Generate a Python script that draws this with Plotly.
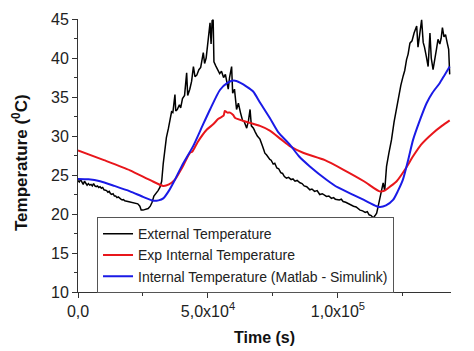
import plotly.graph_objects as go

# External temperature (time in s, temp in degC)
ext_t = [0, 500, 1000, 1500, 2000, 2500, 3000, 3500, 4000, 4500, 5000, 5500, 6000, 6500, 7000,
         7500, 8000, 8500, 9000, 9500, 10000, 11000, 11500, 12000, 12500, 13000, 13500, 14000,
         14500, 15000, 15500, 16000, 16500, 17000, 17500, 18000, 19000, 20000, 21000, 22000, 23000,
         23800, 24300, 25000, 26000,
         27000, 27800, 28500, 29200, 30000, 30800, 31500, 32200, 32800, 33400, 34000, 34800, 35500,
         36000, 36500, 37000, 37300, 37600, 38200, 39000, 39500, 40200, 41000, 41800, 42200, 43000,
         43700, 44400, 45000, 45700, 46500, 47200, 48200, 48700, 49300, 49800, 50400, 50800, 51200,
         51600, 52000, 52300, 53000, 53800, 54500, 55200, 56000, 56700, 57200, 57800, 58300, 59100,
         59500, 60200, 61000, 61700, 62500, 63300, 64000, 64900, 65600, 66200, 66700, 67500, 68200,
         69000, 70000, 70500, 71000, 71500, 71900, 72500, 73000, 73800, 74300, 75100, 75700, 76500,
         77200, 78000, 78700, 79400, 80200, 81000, 82000, 82700, 83500, 84300, 85400, 86200, 87000,
         88000, 89200, 90000, 91000, 92000, 93000, 94000, 95600, 96500, 97500, 98300, 99000, 100500,
         101300, 102000, 103000, 104000, 105000, 106000, 107000, 108500, 109500, 110500, 111300,
         112000, 112800, 113600, 114300, 114900, 115500, 116200, 116800, 117400, 118000, 118700,
         119600, 120600, 121600, 122600, 123400, 124200, 125100, 125700, 126400, 127000, 127700,
         128500, 129300, 130300, 130800, 131500, 132200, 132800, 133300, 134000, 134700, 135400,
         135900, 136600, 137200, 137900, 138500, 139200, 139700, 140200, 140800, 141400, 142000,
         142600, 143000]
ext_v = [24.3, 24.1, 24.4, 24.0, 23.8, 24.2, 24.0, 23.7, 23.9, 23.7, 23.8, 23.6, 23.9, 23.6, 23.5,
         23.6, 23.4, 23.5, 23.3, 23.4, 23.1, 23.0, 22.8, 22.9, 22.6, 22.5, 22.6, 22.3,
         22.3, 22.1, 22.2, 22.0, 21.9, 21.8, 21.85, 21.7, 21.6, 21.5, 21.4, 21.35, 21.3,
         21.0, 20.5, 20.5, 20.6,
         20.7, 21.0, 21.5, 22.3, 22.6, 23.0, 23.4, 24.2, 26.5, 28.6, 29.8, 31.0, 32.5,
         33.1, 33.0, 34.5, 35.3, 33.2, 33.4, 34.0, 33.6, 34.8, 35.2, 38.1, 35.2, 36.0,
         37.0, 38.9, 37.6, 37.8, 38.5, 38.8, 40.7, 39.3, 40.0, 41.5, 43.0, 44.5, 41.8,
         44.8, 44.9, 39.5, 39.0, 38.5, 38.0, 38.3, 37.5, 37.9, 37.2, 36.0, 37.5, 38.9,
         35.5, 36.0, 33.4, 34.2, 33.0, 32.0, 31.8, 31.0, 32.0, 33.4, 31.3, 31.0, 30.5,
         30.0, 29.6, 29.0, 28.7, 28.2, 27.8, 27.6, 27.3, 27.0, 26.9, 26.4, 26.5, 25.9,
         25.8, 25.3, 25.2, 24.8, 24.6, 24.7, 24.4, 24.5, 24.2, 24.3, 24.0, 23.9, 23.6,
         23.5, 23.1, 23.2, 22.9, 23.0, 22.5, 22.6, 22.25, 22.3, 22.0, 22.1, 21.9, 21.8,
         21.9, 21.6, 21.5, 21.3, 21.2, 21.0, 20.9, 20.5, 20.4, 20.2, 20.3,
         19.9, 19.8, 19.5, 19.8, 20.1, 21.0, 22.25, 23.2, 24.0, 23.0, 26.1,
         27.8, 29.5, 31.8, 33.8, 35.0, 36.5, 37.7, 38.4, 39.8, 40.5, 41.9,
         42.2, 43.2, 44.1, 41.4, 43.5, 44.9, 42.0, 41.4, 40.2, 38.9, 43.2,
         40.0, 38.5, 40.0, 41.1, 42.4, 41.8, 42.5, 43.9, 42.7, 43.0, 42.0,
         41.1, 37.9]

# Experimental internal temperature
exp_t = [0, 10000, 20000, 28000, 32800, 35000, 37300, 40000, 43100, 44000, 46000, 49500, 52000,
         54000, 56000, 56500, 57500, 58500, 59700, 60500, 65000, 70000, 73800, 78000, 81500, 86600,
         95000, 102000, 110000, 116000, 118000, 120000, 122600, 126000, 128900, 132000, 136600,
         140000, 143000]
exp_v = [28.15, 26.9, 25.6, 24.3, 23.6, 23.8, 24.4, 25.9, 27.85, 28.0, 29.2, 30.8, 31.5,
         32.2, 32.6, 33.2, 33.0, 33.0, 32.7, 32.3, 31.8, 31.3, 30.7, 29.6, 28.7, 27.85,
         26.9, 25.7, 24.2, 22.9, 23.0, 23.5, 24.2, 25.8, 27.4, 28.9, 30.4,
         31.3, 32.0]

# Simulated internal temperature (Matlab - Simulink)
sim_t = [0, 4000, 8500, 14000, 20000, 25000, 29000, 31000, 32800, 35000, 37300, 40000, 44300,
         48000, 50800, 54600, 57500, 60000, 62500, 65000, 67400, 70000, 73800, 77000, 81500, 85000,
         89200, 95600, 100000, 105900, 110000, 114900, 116200, 118500, 121200, 123000, 125000,
         127000, 128900, 131500, 134100, 136500, 139200, 141000, 143000]
sim_v = [24.5, 24.45, 24.2, 23.6, 22.9, 22.2, 21.7, 21.75, 22.0, 23.0, 24.4, 26.2, 28.7,
         31.4, 33.4, 35.9, 36.8, 37.1, 36.8, 36.3, 35.7, 34.3, 32.3, 30.5, 28.9, 27.4,
         26.1, 24.4, 23.4, 22.45, 21.8, 21.0, 20.9, 21.1, 21.8, 22.9, 24.4,
         26.9, 29.5, 32.0, 34.2, 35.6, 36.8, 37.8, 38.9]

x_tickvals = [0, 50000, 100000]
x_ticktext = ["0,0", "5,0x10<sup>4</sup>", "1,0x10<sup>5</sup>"]
y_tickvals = [10, 15, 20, 25, 30, 35, 40, 45]

fig = go.Figure()
fig.add_trace(go.Scatter(x=ext_t, y=ext_v, mode="lines", name="External Temperature",
                         line=dict(color="black", width=1.5)))
fig.add_trace(go.Scatter(x=exp_t, y=exp_v, mode="lines", name="Exp Internal Temperature",
                         line=dict(color="#e8161b", width=2, shape="spline", smoothing=0.6)))
fig.add_trace(go.Scatter(x=sim_t, y=sim_v, mode="lines", name="Internal Temperature (Matlab - Simulink)",
                         line=dict(color="#1a1ae6", width=2, shape="spline", smoothing=0.6)))

axis_font = dict(family="Liberation Sans, Arial, sans-serif", size=16, color="#222")
fig.update_layout(
    width=474, height=351,
    margin=dict(l=78, r=23, t=19, b=59, autoexpand=False),
    paper_bgcolor="white", plot_bgcolor="white",
    font=dict(family="Liberation Sans, Arial, sans-serif", color="#222"),
    showlegend=True,
    legend=dict(x=0.051, y=0.135, xanchor="left", yanchor="middle",
                bordercolor="#555", borderwidth=1, bgcolor="white",
                font=dict(size=14, color="#222"), itemwidth=30,
                tracegroupgap=0),
    xaxis=dict(range=[0, 143500], tickvals=x_tickvals, ticktext=x_ticktext,
               showgrid=False, zeroline=False, showline=True, linecolor="#333", linewidth=1,
               ticks="outside", ticklen=5, tickcolor="#333", tickfont=axis_font,
               minor=dict(dtick=25000, ticks="outside", ticklen=3, tickcolor="#333", showgrid=False),
               automargin=False),
    yaxis=dict(range=[10, 45], tickvals=y_tickvals,
               showgrid=False, zeroline=False, showline=True, linecolor="#333", linewidth=1,
               ticks="outside", ticklen=5, tickcolor="#333", tickfont=axis_font,
               minor=dict(dtick=2.5, ticks="outside", ticklen=3, tickcolor="#333", showgrid=False),
               automargin=False),
    annotations=[
        dict(text="<b>Time (s)</b>", xref="paper", yref="paper",
             x=0.5, y=-0.168, xanchor="center", yanchor="middle", showarrow=False,
             font=dict(size=16, color="#111")),
        dict(text="<b>Temperature (<sup>0</sup>C)</b>", xref="paper", yref="paper",
             x=-0.155, y=0.473, xanchor="center", yanchor="middle", showarrow=False,
             textangle=-90, font=dict(size=17, color="#111")),
    ],
)

fig.write_html("out.html")
